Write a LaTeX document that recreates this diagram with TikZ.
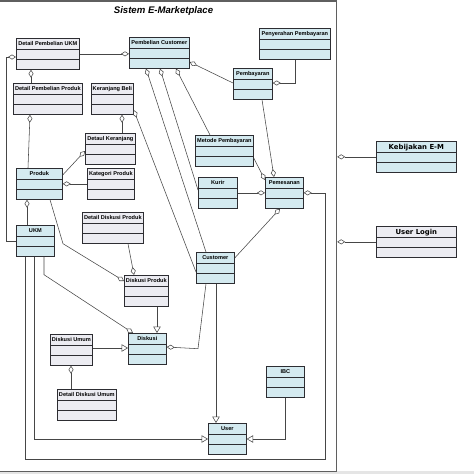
\documentclass[tikz,border=0pt]{standalone}
\usepackage{fontspec}
\setmainfont{Liberation Sans}
\newfontfamily\extfamily{DejaVu Sans}
\usetikzlibrary{arrows.meta}
\definecolor{clsblue}{RGB}{212, 234, 240}
\definecolor{clsgrey}{RGB}{236, 236, 242}
\definecolor{clsline}{RGB}{45, 45, 50}
\definecolor{wiregray}{RGB}{70, 70, 70}
\definecolor{framegray}{RGB}{95, 95, 95}
\newcommand{\clsfont}{\fontsize{5.6}{6}\selectfont\bfseries}
\newcommand{\extfont}{\extfamily\fontsize{6.9}{8}\selectfont\bfseries}
\tikzset{
 umlbox/.style={
 rectangle,
 draw=clsline,
 line width=0.7pt,
 anchor=north west,
 minimum width=#1,
 minimum height=31pt,
 inner xsep=1pt,
 inner ysep=0pt,
 text height=7.6pt,
 text depth=23.4pt,
 font=\clsfont,
 path picture={
 \draw[clsline, line width=0.7pt]
 ([yshift=-11pt]path picture bounding box.north west) -- ([yshift=-11pt]path picture bounding box.north east)
 ([yshift=-21pt]path picture bounding box.north west) -- ([yshift=-21pt]path picture bounding box.north east);
 }
 },
 entity/.style={umlbox=#1, fill=clsblue},
 detail/.style={umlbox=#1, fill=clsgrey},
 outside/.style={font=\extfont, text height=8pt, text depth=23pt},
 sysframe/.style={
 rectangle,
 draw=framegray,
 line width=1.2pt,
 anchor=north west,
 minimum width=340pt,
 minimum height=470pt,
 inner sep=0pt
 },
 frametitle/.style={font=\fontsize{9.6}{11}\selectfont\bfseries\itshape},
 aggr/.style={-{Diamond[open, length=8pt, width=5pt]}, draw=wiregray, line width=0.55pt},
 gener/.style={-{Triangle[open, length=6.5pt, width=7.5pt]}, draw=wiregray, line width=0.55pt}
}

\begin{document}
\begin{tikzpicture}[x=1pt, y=-1pt]
 \useasboundingbox (0,0) rectangle (474,474);
 \fill[black!10] (0,471) rectangle (474,474);
 \node[sysframe] (frame) at (-4,1) {};
 \draw[framegray, line width=2.6pt] (frame.north west) -- (frame.north east);
 \node[frametitle] (judul) at (163.5,11) {Sistem E-Marketplace};

 % classes
 \node[detail=63pt] (dpukm) at (16,38) {Detail Pembelian UKM};
 \node[entity=60pt] (pcust) at (129,37) {Pembelian Customer};
 \node[entity=71pt] (penyerahan) at (259,28) {Penyerahan Pembayaran};
 \node[entity=39pt] (pembayaran) at (233,68) {Pembayaran};
 \node[detail=69pt] (dpproduk) at (13,83) {Detail Pembelian Produk};
 \node[detail=42pt] (keranjang) at (91,83) {Keranjang Beli};
 \node[detail=50pt] (dkeranjang) at (85,133) {Detaul Keranjang};
 \node[entity=58pt] (metode) at (195,135) {Metode Pembayaran};
 \node[entity=46pt] (produk) at (16,168) {Produk};
 \node[detail=47pt] (kategori) at (87,168) {Kategori Produk};
 \node[entity=39pt] (kurir) at (198,177) {Kurir};
 \node[entity=38pt] (pemesanan) at (265,177) {Pemesanan};
 \node[detail=61pt] (ddproduk) at (82,212) {Detail Diskusi Produk};
 \node[entity=38pt] (ukm) at (16,225) {UKM};
 \node[entity=38pt] (customer) at (196,252) {Customer};
 \node[detail=44pt] (dproduk) at (124,275) {Diskusi Produk};
 \node[entity=38pt] (diskusi) at (128,333) {Diskusi};
 \node[detail=42pt] (dumum) at (50,334) {Diskusi Umum};
 \node[detail=59pt] (ddumum) at (57,389) {Detail Diskusi Umum};
 \node[entity=38pt] (ibc) at (266,366) {IBC};
 \node[entity=38pt] (user) at (208,423) {User};
 \node[entity=80pt, outside] (kebijakan) at (376,141) {Kebijakan E-M};
 \node[detail=80pt, outside] (login) at (376,226) {User Login};

 % aggregations
 \draw[aggr] (dpukm.east) -- (dpukm.east -| pcust.west);
 \draw[aggr] ([xshift=18pt]dpproduk.north west) -- ([xshift=18pt]dpproduk.north west |- dpukm.south);
 \draw[aggr] ([yshift=-16pt]ukm.north west) -- ++(-10,0) |- ([yshift=-19pt]dpukm.north west);
 \draw[aggr] ([yshift=-15pt]pembayaran.north west) -- ([yshift=-25pt]pcust.north east);
 \draw[aggr] ([xshift=36pt]penyerahan.south west) |- ([yshift=-15pt]pembayaran.north east);
 \draw[aggr] ([xshift=29pt]pembayaran.south west) -- ([xshift=9pt]pemesanan.north west);
 \draw[aggr] ([xshift=10pt]customer.north west) -- ([xshift=17pt]pcust.south west);
 \draw[aggr] ([yshift=-13pt]kurir.north west) -- ([xshift=31pt]pcust.south west);
 \draw[aggr] ([xshift=15pt]metode.north west) -- ([xshift=47pt]pcust.south west);
 \draw[aggr] ([yshift=-20pt]customer.north west) -- ([yshift=-27pt]keranjang.north east);
 \draw[aggr] ([yshift=-23pt]metode.north east) -- ([yshift=-3pt]pemesanan.north west);
 \draw[aggr] (kurir.east) -- (kurir.east -| pemesanan.west);
 \draw[aggr] ([xshift=9pt]ukm.south west) -- ++(0,203) -| ([xshift=22pt]pemesanan.east) -- (pemesanan.east);
 \draw[aggr] ([yshift=-6pt]customer.north east) -- ([xshift=15pt]pemesanan.south west);
 \draw[aggr] ([xshift=37pt]dkeranjang.north west) -- ([xshift=37pt]dkeranjang.north west |- keranjang.south);
 \draw[aggr] ([yshift=-7pt]produk.north east) -- ([yshift=-18pt]dkeranjang.north west);
 \draw[aggr] (kategori.west) -- (kategori.west -| produk.east);
 \draw[aggr] ([xshift=12pt]produk.north west) -- ([xshift=17pt]dpproduk.south west);
 \draw[aggr] ([xshift=11pt]ukm.north west) -- ([xshift=11pt]ukm.north west |- produk.south);
 \draw[aggr] ([xshift=34pt]produk.south west) -- ++(13,44) -- ([yshift=-6pt]dproduk.north west);
 \draw[aggr] ([xshift=46pt]ddproduk.south west) -- ([xshift=10pt]dproduk.north west);
 \draw[aggr] ([xshift=28pt]ukm.south west) -- ++(0,18) -- ([xshift=5pt]diskusi.north west);
 \draw[aggr] ([xshift=10pt]customer.south west) -- ++(-8,65) -- ([yshift=-14pt]diskusi.north east);
 \draw[aggr] ([xshift=14pt]ddumum.north west) -- ([xshift=14pt]ddumum.north west |- dumum.south);
 \draw[aggr] (kebijakan.west) -- (kebijakan.west -| frame.east);
 \draw[aggr] (login.west) -- (login.west -| frame.east);

 % generalizations
 \draw[gener] ([xshift=29pt]diskusi.north west |- dproduk.south) -- ([xshift=29pt]diskusi.north west);
 \draw[gener] ([yshift=-14pt]dumum.north east) -- ([yshift=-14pt]dumum.north east -| diskusi.west);
 \draw[gener] ([xshift=20pt]customer.south west) -- ([xshift=20pt]customer.south west |- user.north);
 \draw[gener] ([xshift=18pt]ukm.south west) |- ([yshift=-16pt]user.north west);
 \draw[gener] ([xshift=19pt]ibc.south west) |- ([yshift=-16pt]user.north east);
\end{tikzpicture}
\end{document}
